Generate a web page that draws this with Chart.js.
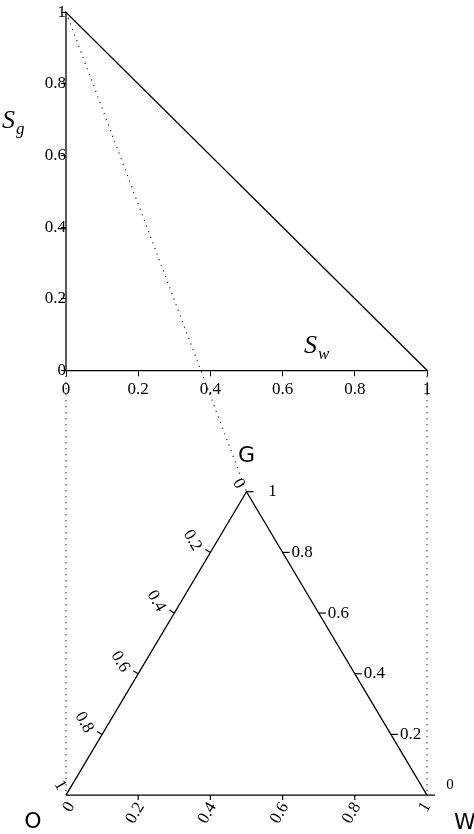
<!DOCTYPE html>
<html><head><meta charset="utf-8">
<script src="https://cdn.jsdelivr.net/npm/chart.js@4"></script>
<style>html,body{margin:0;padding:0;background:#fff}#w{width:474px;height:834px}</style>
</head><body><div id="w"><canvas id="c"></canvas></div>
<script>
// Top saturation triangle (Sw, Sg)
const topTriangle = [{x:0,y:0},{x:0,y:1},{x:1,y:0}];
// Dotted path from Sg=1 through the Sw axis to vertex G
const dottedPath = [{x:0,y:1},{x:0.5,y:-0.339}];
// Dotted projection lines at Sw=0 and Sw=1
const leftDrop = [{x:0,y:0},{x:0,y:-1.186}];
const rightDrop = [{x:1,y:0},{x:1,y:-1.186}];
// Ternary triangle corners O, W, G
const ternary = [{x:0,y:-1.186},{x:1,y:-1.186},{x:0.5,y:-0.339},{x:0,y:-1.186}];
const xTicks = [0,0.2,0.4,0.6,0.8,1];
const yTicks = [0,0.2,0.4,0.6,0.8,1];
const ternTicks = [0.2,0.4,0.6,0.8];
const ternLabels = ['0.2','0.4','0.6','0.8'];

const serif = '"Liberation Serif", "DejaVu Serif", serif';
const line = (data, dash) => ({data, showLine:true, borderColor:'#000', borderWidth: dash?1.2:1.3,
  borderDash: dash?[1,5]:[], pointRadius:0, fill:false, clip:false, tension:0});

const overlay = {
  id:'overlay',
  afterDatasetsDraw(chart){
    const ctx = chart.ctx, sx = chart.scales.x, sy = chart.scales.y;
    const P = p => [sx.getPixelForValue(p.x), sy.getPixelForValue(p.y)];
    const [Ox,Oy] = P(ternary[0]), [Wx,Wy] = P(ternary[1]), [Gx,Gy] = P(ternary[2]);
    ctx.save();
    ctx.strokeStyle='#000'; ctx.fillStyle='#000'; ctx.lineWidth=1.2;
    const seg=(a,b,c,d)=>{ctx.beginPath();ctx.moveTo(a,b);ctx.lineTo(c,d);ctx.stroke();};
    const rtext=(t,x,y,ang,font,align)=>{ctx.save();ctx.translate(x,y);ctx.rotate(ang);ctx.font=font;
      ctx.textAlign=align||'center';ctx.textBaseline='middle';ctx.fillText(t,0,0);ctx.restore();};
    const f = '17px '+serif;
    // bottom edge (W fraction)
    ternTicks.forEach((v,i)=>{
      const x = Ox + v*(Wx-Ox);
      seg(x,Oy,x,Oy+5);
      rtext(ternLabels[i], x-3, Oy+18, -Math.PI/3, f);
    });
    rtext('0', Ox+3, Oy+12, -Math.PI/3, f);
    rtext('1', Wx-2, Wy+12, -Math.PI/3, f);
    seg(Wx,Wy,Wx+8,Wy);
    rtext('0', Wx+23, Wy-10, 0, '15px '+serif);
    // right edge (G fraction, from W)
    ternTicks.forEach((v,i)=>{
      const x = Wx + v*(Gx-Wx), y = Wy + v*(Gy-Wy);
      seg(x,y,x+7,y);
      rtext(ternLabels[i], x+9, y, 0, f, 'left');
    });
    seg(Gx,Gy,Gx+7,Gy);
    rtext('1', Gx+26, Gy, 0, f);
    // left edge (O fraction, from G)
    ternTicks.forEach((v,i)=>{
      const x = Gx + v*(Ox-Gx), y = Gy + v*(Oy-Gy);
      seg(x,y,x-5,y-3);
      rtext(ternLabels[i], x-18, y-12, Math.PI/3, f);
    });
    rtext('0', Gx-8, Gy-8, Math.PI/3, f);
    rtext('1', Ox-6, Oy-10, Math.PI/3, f);
    // corner letters
    ctx.font='22px "DejaVu Sans", sans-serif'; ctx.textAlign='center'; ctx.textBaseline='middle';
    ctx.fillText('G', Gx, Gy-35);
    ctx.fillText('O', Ox-33, Oy+27);
    ctx.fillText('W', Wx+38, Wy+28);
    // axis titles
    const title=(x,y,sub)=>{ctx.textAlign='left';ctx.textBaseline='alphabetic';
      ctx.font='italic 26px '+serif; ctx.fillText('S',x,y);
      ctx.font='italic 17px '+serif; ctx.fillText(sub,x+14,y+6);};
    title(2,128,'g');
    title(304,353,'w');
    ctx.restore();
  }
};

new Chart(document.getElementById('c'), {
  type:'scatter',
  data:{datasets:[line(topTriangle,false), line(dottedPath,true), line(leftDrop,true),
    line(rightDrop,true), line(ternary,false)]},
  options:{
    responsive:true, maintainAspectRatio:false, animation:false,
    layout:{padding:{left:66,right:47,top:8,bottom:16}},
    plugins:{legend:{display:false}, tooltip:{enabled:false}},
    scales:{
      x:{type:'linear', min:0, max:1, position:{y:0},
        afterBuildTicks:s=>{s.ticks=xTicks.map(v=>({value:v}));},
        grid:{display:true, drawOnChartArea:false, drawTicks:true, tickLength:5, color:'#000'},
        border:{display:true, color:'#000', width:1.3},
        ticks:{color:'#000', font:{family:serif,size:17}, padding:4, maxRotation:0,
          callback:v=>String(v)}},
      y:{type:'linear', min:-1.25, max:1, position:{x:0},
        afterBuildTicks:s=>{s.ticks=yTicks.map(v=>({value:v}));},
        grid:{display:true, drawOnChartArea:false, drawTicks:true, tickLength:5, color:'#000'},
        border:{display:false},
        ticks:{color:'#000', font:{family:serif,size:17}, padding:2, callback:v=>String(v)}}
    }
  },
  plugins:[overlay]
});
</script></body></html>
